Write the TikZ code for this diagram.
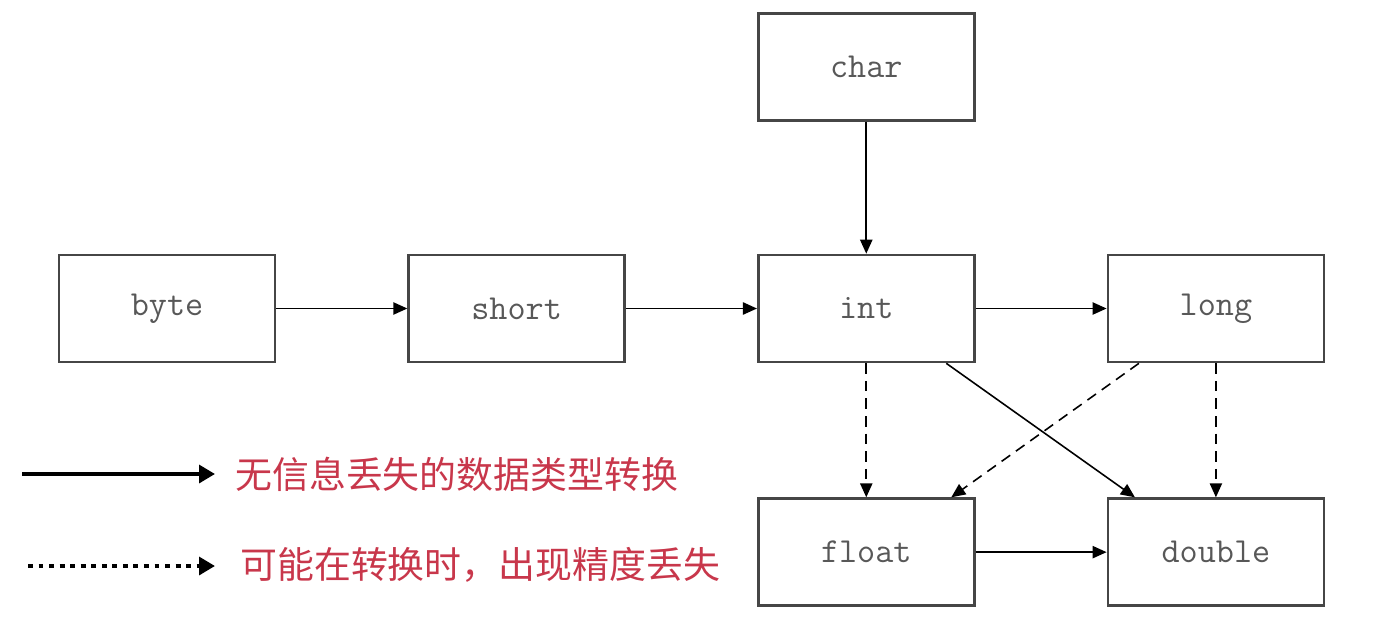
\documentclass[tikz,border=0pt]{standalone}
\usepackage{fontspec}
\newfontfamily\cjk{Noto Sans CJK SC}
\usetikzlibrary{positioning,arrows.meta}
\definecolor{legendred}{RGB}{200,55,75}
\definecolor{boxgray}{RGB}{70,70,70}

\begin{document}
\begin{tikzpicture}[
    typenode/.style={rectangle, draw=boxgray, line width=1.5pt, minimum width=4.32cm, minimum height=2.14cm,
      text=boxgray!90, font=\fontsize{20}{21}\selectfont\ttfamily},
    conv/.style={-{Triangle[length=8pt,width=7pt]}, line width=0.9pt},
    lossy/.style={conv, dash pattern=on 6pt off 4pt},
    legendtext/.style={anchor=west, inner sep=0pt, text=legendred, font=\fontsize{21}{22}\selectfont\cjk},
    node distance=2.62cm]
    \useasboundingbox (0,0) rectangle (27.62,-12.7);
    %Nodes
    \node[typenode] (byte) at (3.34,-6.17) {byte};
    \node[typenode] (short) [right=of byte] {short};
    \node[typenode] (int) [right=of short] {int};
    \node[typenode] (long) [right=of int] {long};
    \node[typenode] (char) [above=2.64cm of int] {char};
    \node[typenode] (float) [below=2.68cm of int] {float};
    \node[typenode] (double) [below=2.68cm of long] {double};

    % %Lines
    \draw[conv] (char.south) -- (int.north);
    \draw[conv] (byte.east) -- (short.west);
    \draw[conv] (short.east) -- (int.west);
    \draw[conv] (int.east) -- (long.west);
    \draw[conv] (float.east) -- (double.west);
    \draw[conv] ([xshift=1.6cm]int.south) -- ([xshift=-1.62cm]double.north);
    \draw[lossy] (int.south) -- (float.north);
    \draw[lossy] ([xshift=-1.54cm]long.south) -- ([xshift=1.7cm]float.north);
    \draw[lossy] (long.south) -- (double.north);

    % legend
    \node[legendtext] (nolosstext) at (4.7,-9.48) {无信息丢失的数据类型转换};
    \node[legendtext] (losstext) at (4.8,-11.3) {可能在转换时，出现精度丢失};
    \coordinate (nolossstart) at (0.44,-9.48);
    \coordinate (lossstart) at (0.56,-11.32);
    \draw[-{Triangle[length=9pt,width=10pt]}, line width=2.3pt] (nolossstart) -- ([xshift=-0.4cm]nolosstext.west);
    \draw[-{Triangle[length=9pt,width=10pt]}, line width=2.3pt, dash pattern=on 2.8pt off 3.2pt] (lossstart) -- ([xshift=-0.5cm,yshift=-0.02cm]losstext.west);
  \end{tikzpicture}
\end{document}
